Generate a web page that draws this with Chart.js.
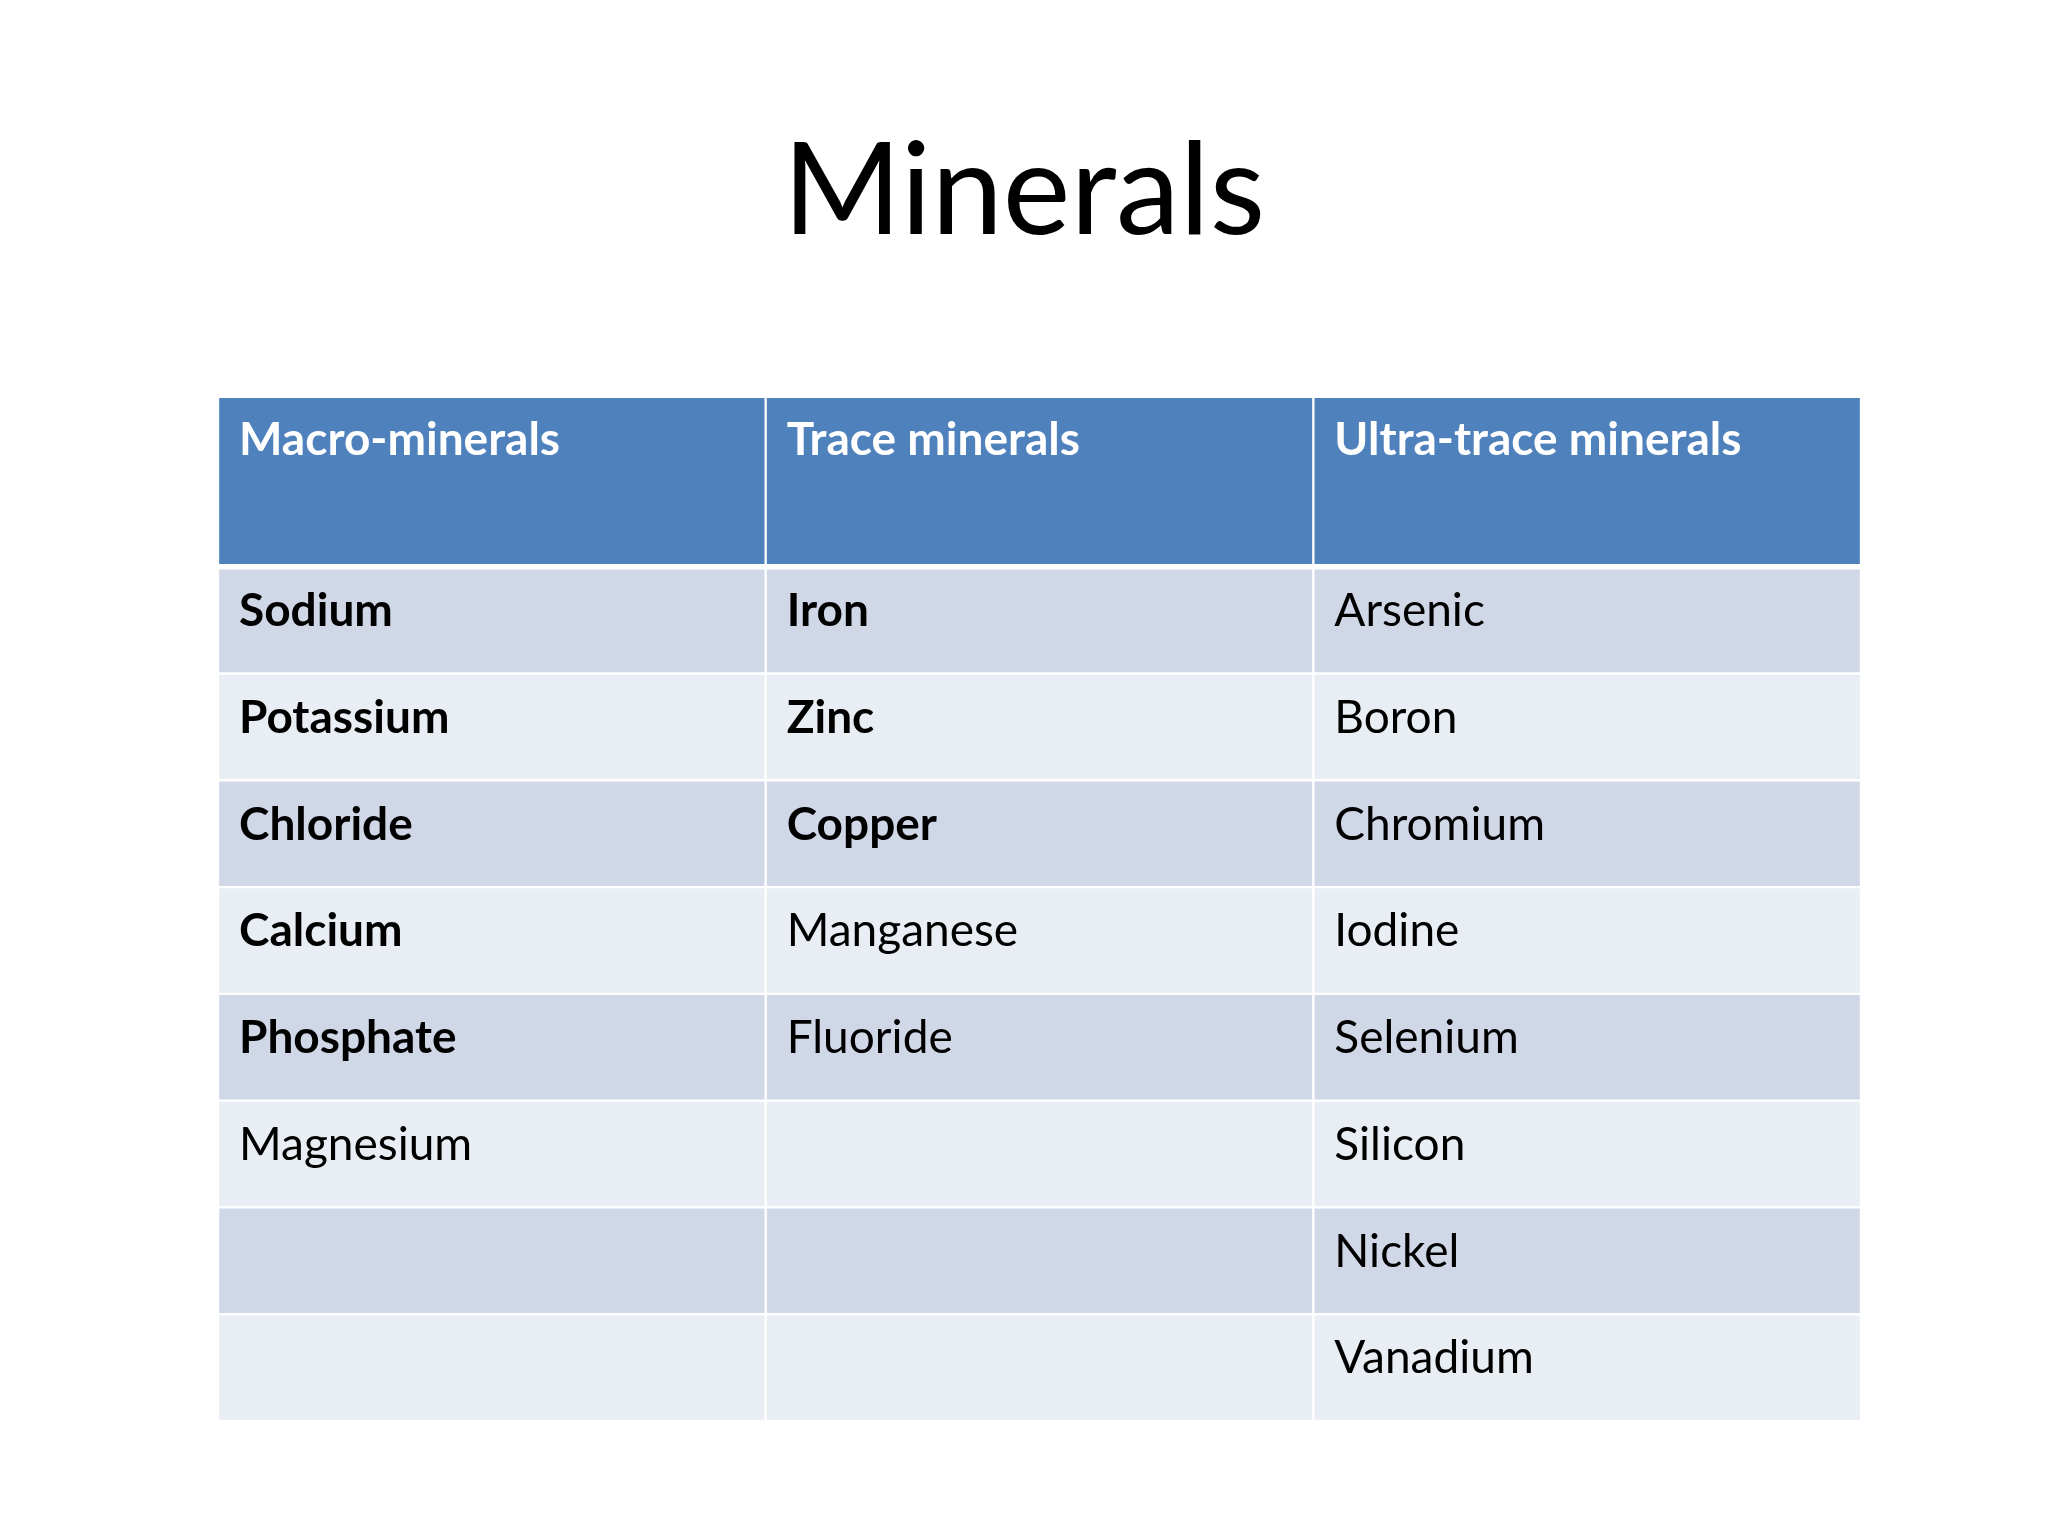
<!DOCTYPE html>
<html>
<head>
<meta charset="utf-8">
<script src="https://cdn.jsdelivr.net/npm/chart.js@4.4.1/dist/chart.umd.min.js"></script>
<style>
  html, body { margin: 0; padding: 0; background: #fff; }
  #wrap { width: 2048px; height: 1536px; }
</style>
</head>
<body>
<div id="wrap"><canvas id="tableChart"></canvas></div>
<script>
// Columns and cell contents
const columns = ['Macro-minerals', 'Trace minerals', 'Ultra-trace minerals'];
const macro = ['Sodium', 'Potassium', 'Chloride', 'Calcium', 'Phosphate', 'Magnesium', '', ''];
const trace = ['Iron', 'Zinc', 'Copper', 'Manganese', 'Fluoride', '', '', ''];
const ultra = ['Arsenic', 'Boron', 'Chromium', 'Iodine', 'Selenium', 'Silicon', 'Nickel', 'Vanadium'];
// which entries are bold
const macroBold = [true, true, true, true, true, false, false, false];
const traceBold = [true, true, true, false, false, false, false, false];
const ultraBold = [false, false, false, false, false, false, false, false];

// Row heights in table units (header taller than body rows)
const rowHeights = [1.58, 1, 1, 1, 1, 1, 1, 1, 1];

const HEADER = '#4F81BD';
const ODD = '#D0D8E8';
const EVEN = '#E9EDF4';
const FONT = 'Lato, "Noto Sans", sans-serif';

// cumulative row edges
const edges = [0];
rowHeights.forEach(h => edges.push(edges[edges.length - 1] + h));
const total = edges[edges.length - 1];

const datasets = rowHeights.map((h, r) => ({
  label: r === 0 ? 'header' : 'row ' + r,
  data: columns.map(() => [edges[r], edges[r + 1]]),
  backgroundColor: r === 0 ? HEADER : (r % 2 === 1 ? ODD : EVEN),
  borderColor: '#ffffff',
  borderWidth: r === 0 ? { top: 0, left: 1.5, right: 1.5, bottom: 3 } : { top: r === 1 ? 3 : 1.5, left: 1.5, right: 1.5, bottom: 1.5 },
  borderSkipped: false,
  barPercentage: 1,
  categoryPercentage: 1,
  grouped: false
}));

const cellText = {
  id: 'cellText',
  afterDatasetsDraw(chart) {
    const { ctx, scales: { x, y } } = chart;
    ctx.save();
    // title
    ctx.fillStyle = '#000';
    ctx.textAlign = 'center';
    ctx.textBaseline = 'middle';
    ctx.font = '128px ' + FONT;
    ctx.fillText('Minerals', 1024, 193);

    ctx.textAlign = 'left';
    const colW = x.getPixelForValue(1) - x.getPixelForValue(0);
    const cols = [[macro, macroBold], [trace, traceBold], [ultra, ultraBold]];
    columns.forEach((name, c) => {
      const left = x.getPixelForValue(c) - colW / 2 + 21;
      // header text sits near the top of the header cell
      ctx.fillStyle = '#ffffff';
      ctx.font = 'bold 46px ' + FONT;
      ctx.fillText(name, left, y.getPixelForValue(edges[0]) + 42);
      const [items, bold] = cols[c];
      items.forEach((t, i) => {
        if (!t) return;
        const r = i + 1;
        const cy = (y.getPixelForValue(edges[r]) + y.getPixelForValue(edges[r + 1])) / 2 - 9;
        ctx.fillStyle = '#000';
        ctx.font = (bold[i] ? 'bold ' : '') + '46px ' + FONT;
        ctx.fillText(t, left, cy);
      });
    });
    ctx.restore();
  }
};

new Chart(document.getElementById('tableChart'), {
  type: 'bar',
  data: { labels: columns, datasets: datasets },
  options: {
    responsive: true,
    maintainAspectRatio: false,
    animation: false,
    layout: { padding: { left: 218, right: 187, top: 398, bottom: 115 } },
    plugins: { legend: { display: false }, tooltip: { enabled: false } },
    scales: {
      x: { display: false },
      y: { display: false, reverse: true, min: 0, max: total }
    }
  },
  plugins: [cellText]
});
</script>
</body>
</html>
